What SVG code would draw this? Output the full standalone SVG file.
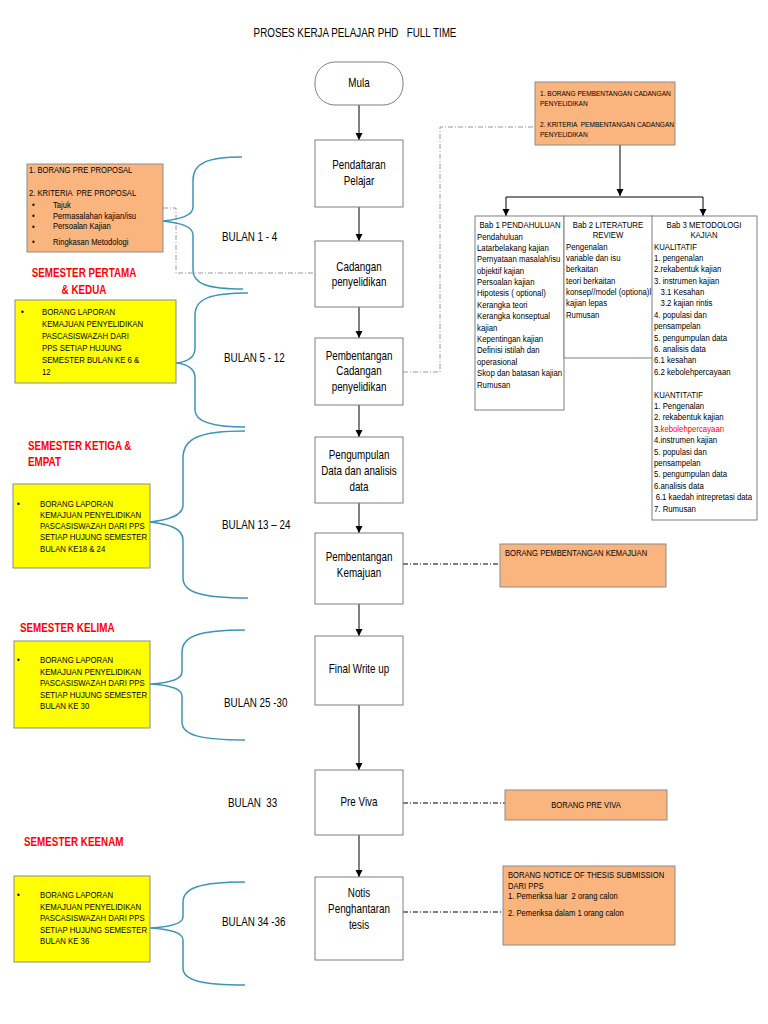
<svg xmlns="http://www.w3.org/2000/svg" width="768" height="1024" viewBox="0 0 768 1024">
<style>
text{font-family:"Liberation Sans",Arial,sans-serif;fill:#000}
.t12{font-size:12px}
.t95{font-size:9.5px}
.t9{font-size:9.3px}
.t8{font-size:8px}
.sem{font-size:12px;font-weight:bold;fill:#FF0000}
.red{fill:#FF0000}
.mid{text-anchor:middle}
.box{fill:#fff;stroke:#7f7f7f;stroke-width:1}
.or{fill:#FAB47E;stroke:#8c8c8c;stroke-width:1}
.ye{fill:#FFFF00;stroke:#8c8c8c;stroke-width:1}
.brace{fill:none;stroke:#3B95B6;stroke-width:1.5}
.arr{stroke:#000;stroke-width:1;fill:none;marker-end:url(#ah)}
.ln{stroke:#000;stroke-width:1;fill:none}
.dd{stroke:#000;stroke-width:1;fill:none;stroke-dasharray:5 2 1 2}
.gd{stroke:#9a9a9a;stroke-width:1;fill:none;stroke-dasharray:5 2 1 2}
</style>
<defs>
<marker id="ah" viewBox="0 0 10 10" refX="10" refY="5" markerWidth="7" markerHeight="8" markerUnits="userSpaceOnUse" orient="auto">
<path d="M0,0 L10,5 L0,10 z" fill="#000"/>
</marker>
</defs>
<rect width="768" height="1024" fill="#fff"/>

<text id="title" class="t12 mid" xml:space="preserve" transform="translate(355,37) scale(.82 1)">PROSES KERJA PELAJAR PHD   FULL TIME</text>

<g id="connectors">
<line class="arr" x1="359" y1="105" x2="359" y2="140"/>
<line class="arr" x1="359" y1="207" x2="359" y2="241"/>
<line class="arr" x1="359" y1="307" x2="359" y2="338"/>
<line class="arr" x1="359" y1="405" x2="359" y2="437"/>
<line class="arr" x1="359" y1="503" x2="359" y2="533"/>
<line class="arr" x1="359" y1="604" x2="359" y2="636"/>
<line class="arr" x1="359" y1="705" x2="359" y2="770"/>
<line class="arr" x1="359" y1="835" x2="359" y2="877"/>
<polyline class="gd" points="163,208 176,208 176,273 315,273"/>
<polyline class="gd" points="403,372 440,372 440,127 535,127"/>
<line class="arr" x1="620" y1="145" x2="620" y2="196"/>
<line class="ln" x1="506" y1="197" x2="703" y2="197"/>
<line class="arr" x1="506" y1="197" x2="506" y2="216"/>
<line class="arr" x1="703" y1="197" x2="703" y2="216"/>
<line class="dd" x1="403" y1="564" x2="500" y2="564"/>
<line class="dd" x1="403" y1="803" x2="505" y2="803"/>
<line class="dd" x1="403" y1="912" x2="503" y2="912"/>
<path class="brace" d="M242,157 C208,157 193,163 193,180 L193,207 C193,216 180,219 163,221 C180,223 193,226 193,235 L193,270 C193,284 208,289 243,289"/>
<path class="brace" d="M248,293 C212,293 195,298 195,315 L195,348 C195,358 186,362 176,363 C186,364 195,368 195,378 L195,410 C195,422 212,427 245,427"/>
<path class="brace" d="M245,431 C200,431 183,438 183,458 L183,505 C183,516 168,520 150,522 C168,524 183,528 183,540 L183,578 C183,592 200,598 248,598"/>
<path class="brace" d="M245,630 C200,630 182,636 182,652 L182,672 C182,680 168,683 150,684 C168,685 182,688 182,696 L182,722 C182,735 200,740 245,740"/>
<path class="brace" d="M245,882 C200,882 183,888 183,902 L183,917 C183,924 168,927 150,928 C168,929 183,932 183,940 L183,968 C183,980 200,985 245,985"/>
</g>

<g id="mula">
<rect class="box" x="315" y="62" width="88" height="43" rx="20"/>
<text class="t12 mid" transform="translate(359,87) scale(.82 1)">Mula</text>
</g>
<g id="pendaftaran">
<rect class="box" x="315" y="140" width="88" height="67"/>
<text class="t12 mid" transform="translate(359,169) scale(.82 1)"><tspan x="0" y="0">Pendaftaran</tspan><tspan x="0" y="16">Pelajar</tspan></text>
</g>
<g id="cadangan">
<rect class="box" x="315" y="241" width="88" height="66"/>
<text class="t12 mid" transform="translate(359,271) scale(.82 1)"><tspan x="0" y="0">Cadangan</tspan><tspan x="0" y="15">penyelidikan</tspan></text>
</g>
<g id="pembentangan-cadangan">
<rect class="box" x="315" y="338" width="88" height="67"/>
<text class="t12 mid" transform="translate(359,360) scale(.82 1)"><tspan x="0" y="0">Pembentangan</tspan><tspan x="0" y="15.5">Cadangan</tspan><tspan x="0" y="31">penyelidikan</tspan></text>
</g>
<g id="pengumpulan">
<rect class="box" x="315" y="437" width="88" height="66"/>
<text class="t12 mid" transform="translate(359,459) scale(.82 1)"><tspan x="0" y="0">Pengumpulan</tspan><tspan x="0" y="16">Data dan analisis</tspan><tspan x="0" y="32">data</tspan></text>
</g>
<g id="pembentangan-kemajuan">
<rect class="box" x="315" y="533" width="88" height="71"/>
<text class="t12 mid" transform="translate(359,561) scale(.82 1)"><tspan x="0" y="0">Pembentangan</tspan><tspan x="0" y="16">Kemajuan</tspan></text>
</g>
<g id="final">
<rect class="box" x="315" y="636" width="88" height="69"/>
<text class="t12 mid" transform="translate(359,673) scale(.82 1)">Final Write up</text>
</g>
<g id="previva">
<rect class="box" x="315" y="770" width="88" height="65"/>
<text class="t12 mid" transform="translate(359,806) scale(.82 1)">Pre Viva</text>
</g>
<g id="notis">
<rect class="box" x="315" y="877" width="88" height="83"/>
<text class="t12 mid" transform="translate(359,897) scale(.82 1)"><tspan x="0" y="0">Notis</tspan><tspan x="0" y="16">Penghantaran</tspan><tspan x="0" y="32">tesis</tspan></text>
</g>

<g id="bulan-labels">
<text class="t12" transform="translate(222,241) scale(.82 1)">BULAN 1 - 4</text>
<text class="t12" transform="translate(224,362) scale(.82 1)">BULAN 5 - 12</text>
<text class="t12" transform="translate(222,529) scale(.82 1)">BULAN 13 – 24</text>
<text class="t12" transform="translate(224,707) scale(.82 1)">BULAN 25 -30</text>
<text class="t12" xml:space="preserve" transform="translate(228,807) scale(.82 1)">BULAN  33</text>
<text class="t12" transform="translate(222,926) scale(.82 1)">BULAN 34 -36</text>
</g>

<g id="semester-labels">
<text class="sem mid" transform="translate(84,277) scale(.82 1)"><tspan x="0" y="0">SEMESTER PERTAMA</tspan><tspan x="0" y="17">&amp; KEDUA</tspan></text>
<text class="sem" transform="translate(28,450) scale(.82 1)"><tspan x="0" y="0">SEMESTER KETIGA &amp;</tspan><tspan x="0" y="16">EMPAT</tspan></text>
<text class="sem" transform="translate(20,632) scale(.82 1)">SEMESTER KELIMA</text>
<text class="sem" transform="translate(24,846) scale(.82 1)">SEMESTER KEENAM</text>
</g>

<g id="pre-proposal">
<rect class="or" x="27" y="164" width="136" height="88"/>
<text class="t9" transform="translate(29,173) scale(.82 1)"><tspan x="0" y="0">1. BORANG PRE PROPOSAL</tspan><tspan x="0" y="23" xml:space="preserve">2. KRITERIA  PRE PROPOSAL</tspan></text>
<text class="t9" transform="translate(32,208) scale(.82 1)"><tspan x="0" y="0">•</tspan><tspan x="0" y="11">•</tspan><tspan x="0" y="22">•</tspan><tspan x="0" y="37">•</tspan></text>
<text class="t9" transform="translate(53,208) scale(.82 1)"><tspan x="0" y="0">Tajuk</tspan><tspan x="0" y="11">Permasalahan kajian/isu</tspan><tspan x="0" y="21.5">Persoalan Kajian</tspan><tspan x="0" y="37">Ringkasan Metodologi</tspan></text>
</g>

<g id="pembentangan-borang">
<rect class="or" x="535" y="82" width="140" height="63"/>
<text class="t8" transform="translate(540,96) scale(.82 1)"><tspan x="0" y="0">1. BORANG PEMBENTANGAN CADANGAN</tspan><tspan x="0" y="10">PENYELIDIKAN</tspan><tspan x="0" y="31" xml:space="preserve">2. KRITERIA  PEMBENTANGAN CADANGAN</tspan><tspan x="0" y="41">PENYELIDIKAN</tspan></text>
</g>

<g id="bab1">
<rect class="box" x="475" y="216" width="89" height="194"/>
<text class="t95 mid" transform="translate(520,228) scale(.82 1)">Bab 1 PENDAHULUAN</text>
<text class="t95" transform="translate(477,239.5) scale(.82 1)"><tspan x="0" y="0">Pendahuluan</tspan><tspan x="0" dy="11.4">Latarbelakang kajian</tspan><tspan x="0" dy="11.4">Pernyataan masalah/isu</tspan><tspan x="0" dy="11.4">objektif kajian</tspan><tspan x="0" dy="11.4">Persoalan kajian</tspan><tspan x="0" dy="11.4">Hipotesis ( optional)</tspan><tspan x="0" dy="11.4">Kerangka teori</tspan><tspan x="0" dy="11.4">Kerangka konseptual</tspan><tspan x="0" dy="11.4">kajian</tspan><tspan x="0" dy="11.4">Kepentingan kajian</tspan><tspan x="0" dy="11.4">Definisi istilah dan</tspan><tspan x="0" dy="11.4">operasional</tspan><tspan x="0" dy="11.4">Skop dan batasan kajian</tspan><tspan x="0" dy="11.4">Rumusan</tspan></text>
</g>

<g id="bab2">
<rect class="box" x="564" y="216" width="89" height="142"/>
<text class="t95 mid" transform="translate(608,228) scale(.82 1)"><tspan x="0" y="0">Bab 2 LITERATURE</tspan><tspan x="0" y="10.5">REVIEW</tspan></text>
<text class="t95" transform="translate(566,249.5) scale(.82 1)"><tspan x="0" y="0">Pengenalan</tspan><tspan x="0" dy="11.4">variable  dan isu</tspan><tspan x="0" dy="11.4">berkaitan</tspan><tspan x="0" dy="11.4">teori berkaitan</tspan><tspan x="0" dy="11.4">konsep//model (optiona)l</tspan><tspan x="0" dy="11.4">kajian lepas</tspan><tspan x="0" dy="11.4">Rumusan</tspan></text>
</g>

<g id="bab3">
<rect class="box" x="652" y="216" width="105" height="304"/>
<text class="t95 mid" transform="translate(704,228) scale(.82 1)"><tspan x="0" y="0">Bab 3  METODOLOGI</tspan><tspan x="0" y="10.5">KAJIAN</tspan></text>
<text class="t95" transform="translate(654,249.5) scale(.82 1)"><tspan x="0" y="0">KUALITATIF</tspan><tspan x="0" dy="11.4">1. pengenalan</tspan><tspan x="0" dy="11.4">2.rekabentuk kajian</tspan><tspan x="0" dy="11.4">3. instrumen kajian</tspan><tspan x="8" dy="11.4">3.1 Kesahan</tspan><tspan x="8" dy="11.4">3.2 kajian rintis</tspan><tspan x="0" dy="11.4">4. populasi  dan</tspan><tspan x="0" dy="11.4">pensampelan</tspan><tspan x="0" dy="11.4">5. pengumpulan data</tspan><tspan x="0" dy="11.4">6. analisis data</tspan><tspan x="0" dy="11.4">6.1 kesahan</tspan><tspan x="0" dy="11.4">6.2 kebolehpercayaan</tspan><tspan x="0" dy="22.8">KUANTITATIF</tspan><tspan x="0" dy="11.4">1. Pengenalan</tspan><tspan x="0" dy="11.4">2. rekabentuk kajian</tspan><tspan x="0" dy="11.4">3.<tspan class="red">kebolehpercayaan</tspan></tspan><tspan x="0" dy="11.4">4.instrumen kajian</tspan><tspan x="0" dy="11.4">5. populasi  dan</tspan><tspan x="0" dy="11.4">pensampelan</tspan><tspan x="0" dy="11.4">5. pengumpulan data</tspan><tspan x="0" dy="11.4">6.analisis data</tspan><tspan x="2" dy="11.4">6.1  kaedah intrepretasi data</tspan><tspan x="0" dy="11.4">7. Rumusan</tspan></text>
</g>

<g id="laporan1">
<rect class="ye" x="15" y="300" width="161" height="83"/>
<text class="t95" transform="translate(21,315) scale(.82 1)">•</text>
<text class="t95" transform="translate(42,315) scale(.82 1)"><tspan x="0" y="0">BORANG LAPORAN</tspan><tspan x="0" y="12">KEMAJUAN PENYELIDIKAN</tspan><tspan x="0" y="24">PASCASISWAZAH DARI</tspan><tspan x="0" y="36">PPS SETIAP HUJUNG</tspan><tspan x="0" y="48">SEMESTER BULAN KE 6 &amp;</tspan><tspan x="0" y="60">12</tspan></text>
</g>
<g id="laporan2">
<rect class="ye" x="13" y="484" width="137" height="84"/>
<text class="t95" transform="translate(17,506.5) scale(.82 1)">•</text>
<text class="t95" transform="translate(40,506.5) scale(.82 1)"><tspan x="0" y="0">BORANG LAPORAN</tspan><tspan x="0" y="11.3">KEMAJUAN PENYELIDIKAN</tspan><tspan x="0" y="22.6">PASCASISWAZAH DARI PPS</tspan><tspan x="0" y="33.9">SETIAP HUJUNG SEMESTER</tspan><tspan x="0" y="45.2">BULAN KE18 &amp; 24</tspan></text>
</g>
<g id="laporan3">
<rect class="ye" x="14" y="641" width="136" height="87"/>
<text class="t95" transform="translate(17,663) scale(.82 1)">•</text>
<text class="t95" transform="translate(40,663) scale(.82 1)"><tspan x="0" y="0">BORANG LAPORAN</tspan><tspan x="0" y="11.6">KEMAJUAN PENYELIDIKAN</tspan><tspan x="0" y="23.2">PASCASISWAZAH DARI PPS</tspan><tspan x="0" y="34.8">SETIAP HUJUNG SEMESTER</tspan><tspan x="0" y="46.4">BULAN KE 30</tspan></text>
</g>
<g id="laporan4">
<rect class="ye" x="14" y="876" width="136" height="86"/>
<text class="t95" transform="translate(17,898) scale(.82 1)">•</text>
<text class="t95" transform="translate(40,898) scale(.82 1)"><tspan x="0" y="0">BORANG LAPORAN</tspan><tspan x="0" y="11.6">KEMAJUAN PENYELIDIKAN</tspan><tspan x="0" y="23.2">PASCASISWAZAH DARI PPS</tspan><tspan x="0" y="34.8">SETIAP HUJUNG SEMESTER</tspan><tspan x="0" y="46.4">BULAN KE 36</tspan></text>
</g>

<g id="borang-kemajuan">
<rect class="or" x="500" y="544" width="166" height="43"/>
<text class="t9" transform="translate(505,556) scale(.82 1)">BORANG PEMBENTANGAN KEMAJUAN</text>
</g>
<g id="borang-previva">
<rect class="or" x="505" y="790" width="162" height="30"/>
<text class="t9 mid" transform="translate(586,808) scale(.82 1)">BORANG PRE VIVA</text>
</g>
<g id="borang-notice">
<rect class="or" x="503" y="866" width="172" height="79"/>
<text class="t9" transform="translate(508,878) scale(.82 1)"><tspan x="0" y="0">BORANG NOTICE OF THESIS SUBMISSION</tspan><tspan x="0" y="11">DARI PPS</tspan><tspan x="0" y="21.5" xml:space="preserve">1. Pemeriksa luar  2 orang calon</tspan><tspan x="0" y="38">2. Pemeriksa dalam 1 orang calon</tspan></text>
</g>
</svg>
